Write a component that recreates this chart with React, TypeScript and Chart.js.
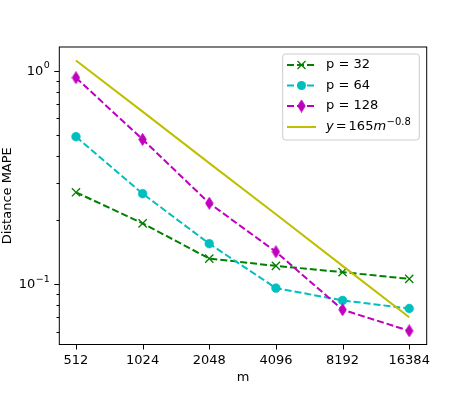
import React, { useEffect, useRef } from "react";
import { Chart, registerables } from "chart.js";

Chart.register(...registerables);

const mValues = [512, 1024, 2048, 4096, 8192, 16384];
const p32 = [0.27, 0.193, 0.132, 0.122, 0.114, 0.106];
const p64 = [0.492, 0.266, 0.155, 0.096, 0.084, 0.077];
const p128 = [0.93, 0.478, 0.24, 0.142, 0.076, 0.0605];
const fitLine = [1.12, 0.645, 0.37, 0.213, 0.122, 0.07];
const xTickLabels = ["512", "1024", "2048", "4096", "8192", "16384"];
const yMajorTicks = [0.1, 1];
const yMajorBase = ["10", "10"];
const yMajorExp = ["−1", "0"];
const yMinorTicks = [0.06, 0.07, 0.08, 0.09, 0.2, 0.3, 0.4, 0.5, 0.6, 0.7, 0.8, 0.9];

const FONT = "DejaVu Sans";
const GREEN = "#008000";
const CYAN = "#00bfbf";
const MAGENTA = "#bf00bf";
const OLIVE = "#bfbf00";

function makeDiamond(): HTMLCanvasElement {
  const c = document.createElement("canvas");
  c.width = 9;
  c.height = 13;
  const g = c.getContext("2d")!;
  g.fillStyle = MAGENTA;
  g.strokeStyle = MAGENTA;
  g.lineWidth = 1;
  g.beginPath();
  g.moveTo(4.5, 0.6);
  g.lineTo(8.2, 6.5);
  g.lineTo(4.5, 12.4);
  g.lineTo(0.8, 6.5);
  g.closePath();
  g.fill();
  g.stroke();
  return c;
}

export default function App() {
  const ref = useRef<HTMLCanvasElement | null>(null);

  useEffect(() => {
    document.body.style.margin = "0";
    const canvas = ref.current!;
    const diamond = makeDiamond();

    const toPts = (arr: number[]) => mValues.map((m, i) => ({ x: m, y: arr[i] }));

    const decorPlugin = {
      id: "decor",
      afterDraw(chart: any) {
        const ctx = chart.ctx as CanvasRenderingContext2D;
        const ca = chart.chartArea;
        const xs = chart.scales.x;
        const ys = chart.scales.y;
        ctx.save();
        // frame
        ctx.strokeStyle = "#000";
        ctx.lineWidth = 1;
        ctx.strokeRect(ca.left, ca.top, ca.right - ca.left, ca.bottom - ca.top);
        // ticks
        ctx.beginPath();
        mValues.forEach((v) => {
          const px = Math.round(xs.getPixelForValue(v)) + 0.5;
          ctx.moveTo(px, ca.bottom);
          ctx.lineTo(px, ca.bottom + 5);
        });
        yMajorTicks.forEach((v) => {
          const py = Math.round(ys.getPixelForValue(v)) + 0.5;
          ctx.moveTo(ca.left, py);
          ctx.lineTo(ca.left - 5, py);
        });
        yMinorTicks.forEach((v) => {
          const py = Math.round(ys.getPixelForValue(v)) + 0.5;
          ctx.moveTo(ca.left, py);
          ctx.lineTo(ca.left - 2.8, py);
        });
        ctx.stroke();

        // y tick labels (10 with superscript exponent)
        ctx.fillStyle = "#000";
        ctx.textAlign = "left";
        ctx.textBaseline = "middle";
        yMajorTicks.forEach((v, i) => {
          const py = ys.getPixelForValue(v) + 0.5;
          const xr = ca.left - 9.5;
          ctx.font = `9.5px "${FONT}"`;
          const ew = ctx.measureText(yMajorExp[i]).width;
          ctx.font = `13px "${FONT}"`;
          const bw = ctx.measureText(yMajorBase[i]).width;
          ctx.fillText(yMajorBase[i], xr - ew - bw - 0.5, py);
          ctx.font = `9.5px "${FONT}"`;
          ctx.fillText(yMajorExp[i], xr - ew, py - 5.5);
        });

        // legend
        const bw = 136.6;
        const bh = 86;
        const bx = ca.right - 7.4 - bw;
        const by = ca.top + 7;
        ctx.beginPath();
        (ctx as any).roundRect(bx, by, bw, bh, 3);
        ctx.fillStyle = "rgba(255,255,255,0.8)";
        ctx.fill();
        ctx.strokeStyle = "#cccccc";
        ctx.lineWidth = 1;
        ctx.stroke();

        const rows = [11, 31.5, 52, 73];
        const sx1 = bx + 4.3;
        const sx2 = bx + 33.3;
        const cx = (sx1 + sx2) / 2;
        const tx = bx + 43.3;
        const ds = chart.data.datasets;
        rows.forEach((ry, i) => {
          const y = by + ry;
          const d = ds[i];
          ctx.save();
          ctx.strokeStyle = d.borderColor;
          ctx.lineWidth = 2;
          ctx.setLineDash(d.borderDash || []);
          ctx.beginPath();
          ctx.moveTo(sx1, y);
          ctx.lineTo(sx2, y);
          ctx.stroke();
          ctx.setLineDash([]);
          if (i === 0) {
            ctx.lineWidth = 1.3;
            ctx.beginPath();
            ctx.moveTo(cx - 4, y - 4);
            ctx.lineTo(cx + 4, y + 4);
            ctx.moveTo(cx + 4, y - 4);
            ctx.lineTo(cx - 4, y + 4);
            ctx.stroke();
          } else if (i === 1) {
            ctx.fillStyle = CYAN;
            ctx.beginPath();
            ctx.arc(cx, y, 4.5, 0, Math.PI * 2);
            ctx.fill();
          } else if (i === 2) {
            ctx.drawImage(diamond, cx - diamond.width / 2, y - diamond.height / 2);
          }
          ctx.restore();
          ctx.fillStyle = "#000";
          ctx.textBaseline = "middle";
          ctx.textAlign = "left";
          if (i < 3) {
            ctx.font = `13px "${FONT}"`;
            ctx.fillText(d.label, tx, y);
          } else {
            let x = tx;
            ctx.font = `italic 13px "${FONT}"`;
            ctx.fillText("y", x, y);
            x += ctx.measureText("y").width + 2;
            ctx.font = `13px "${FONT}"`;
            ctx.fillText("=", x, y);
            x += ctx.measureText("=").width + 2;
            ctx.fillText("165", x, y);
            x += ctx.measureText("165").width;
            ctx.font = `italic 13px "${FONT}"`;
            ctx.fillText("m", x, y);
            x += ctx.measureText("m").width + 0.5;
            ctx.font = `10px "${FONT}"`;
            ctx.fillText("−0.8", x, y - 5);
          }
        });
        ctx.restore();
      },
    };

    const chart = new Chart(canvas, {
      type: "line",
      data: {
        datasets: [
          {
            label: "p = 32",
            data: toPts(p32),
            borderColor: GREEN,
            backgroundColor: GREEN,
            borderWidth: 2,
            borderDash: [7, 3],
            pointStyle: "crossRot",
            pointRadius: 5.8,
            pointBorderWidth: 1.3,
            pointBorderColor: GREEN,
            order: 4,
          },
          {
            label: "p = 64",
            data: toPts(p64),
            borderColor: CYAN,
            backgroundColor: CYAN,
            borderWidth: 2,
            borderDash: [7, 3],
            pointStyle: "circle",
            pointRadius: 4.4,
            pointBorderWidth: 0.5,
            pointBorderColor: CYAN,
            order: 3,
          },
          {
            label: "p = 128",
            data: toPts(p128),
            borderColor: MAGENTA,
            backgroundColor: MAGENTA,
            borderWidth: 2,
            borderDash: [7, 3],
            pointStyle: diamond as any,
            pointRadius: 6,
            order: 2,
          },
          {
            label: "y = 165m^-0.8",
            data: toPts(fitLine),
            borderColor: OLIVE,
            backgroundColor: OLIVE,
            borderWidth: 2,
            pointRadius: 0,
            order: 1,
          },
        ],
      },
      options: {
        responsive: false,
        animation: false,
        devicePixelRatio: 1,
        layout: { padding: { left: 0, top: 47, right: 47.3, bottom: 0 } },
        plugins: { legend: { display: false }, tooltip: { enabled: false } },
        elements: { line: { tension: 0 } },
        scales: {
          x: {
            type: "logarithmic",
            min: 430.5,
            max: 19650,
            grid: { display: false, drawTicks: false },
            border: { display: false },
            afterBuildTicks: (s: any) => {
              s.ticks = mValues.map((v) => ({ value: v }));
            },
            afterFit: (s: any) => {
              s.height = 49.5;
            },
            ticks: {
              autoSkip: false,
              maxRotation: 0,
              padding: 8.5,
              color: "#000",
              font: { family: FONT, size: 13 },
              callback: (v: any) => {
                const i = mValues.indexOf(Number(v));
                return i >= 0 ? xTickLabels[i] : "";
              },
            },
            title: {
              display: true,
              text: "m",
              color: "#000",
              font: { family: FONT, size: 13 },
              padding: { top: 0, bottom: 8.5 },
            },
          },
          y: {
            type: "logarithmic",
            min: 0.0522,
            max: 1.296,
            grid: { display: false, drawTicks: false },
            border: { display: false },
            afterBuildTicks: (s: any) => {
              s.ticks = [...yMinorTicks, ...yMajorTicks]
                .sort((a, b) => a - b)
                .map((v) => ({ value: v }));
            },
            afterFit: (s: any) => {
              s.width = 59.3;
            },
            ticks: { display: false },
            title: {
              display: true,
              text: "Distance MAPE",
              color: "#000",
              font: { family: FONT, size: 13 },
              padding: { top: 0, bottom: 0 },
            },
          },
        },
      },
      plugins: [decorPlugin],
    } as any);

    return () => chart.destroy();
  }, []);

  return (
    <div style={{ width: 474, height: 394 }}>
      <canvas ref={ref} width={474} height={394} style={{ display: "block" }} />
    </div>
  );
}
